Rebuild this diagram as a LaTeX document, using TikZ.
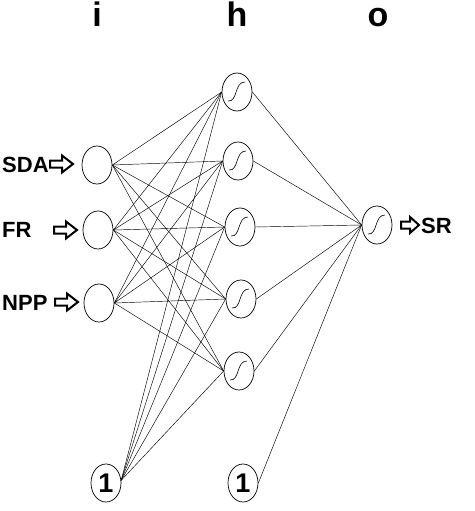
\documentclass[tikz,border=0pt]{standalone}
\usepackage{fontspec}
\setmainfont{Liberation Sans}
\usetikzlibrary{shapes.geometric}
\begin{document}
\begin{tikzpicture}[x=1pt,y=-1pt,
  neuron/.style={ellipse, draw, line width=0.7pt, minimum width=30pt, minimum height=38pt, inner sep=0pt},
  signeuron/.style={neuron, path picture={\draw[line width=0.6pt, shift={(path picture bounding box.center)}]
      (-9,9) .. controls (1,10) and (-3,-10) .. (8,-10);}},
  conn/.style={line width=0.45pt},
  head/.style={font=\fontsize{34}{34}\selectfont\bfseries, inner sep=0pt},
  lab/.style={font=\fontsize{22}{22}\selectfont\bfseries, inner sep=0pt},
  one/.style={font=\fontsize{27}{27}\selectfont\bfseries},
  hollowarrow/.pic={\draw[line width=2pt, line join=miter] (0,-3.5) -- (12,-3.5) -- (12,-8.5) -- (23,0) -- (12,8.5) -- (12,3.5) -- (0,3.5) -- cycle;},
  smallarrow/.pic={\draw[line width=2pt, line join=miter] (0,-3.5) -- (9,-3.5) -- (9,-8) -- (18,0) -- (9,8) -- (9,3.5) -- (0,3.5) -- cycle;}
]
\useasboundingbox (0,0) rectangle (474,511);
% headings
\node[head, anchor=base] (ti) at (97,27) {i};
\node[head, anchor=base] (th) at (237,27) {h};
\node[head, anchor=base] (to) at (378,27) {o};
% input neurons
\node[neuron] (i1) at (97,165) {};
\node[neuron] (i2) at (98,230) {};
\node[neuron] (i3) at (99,303) {};
% hidden
\node[signeuron] (h1) at (237,92) {};
\node[signeuron] (h2) at (238,161) {};
\node[signeuron] (h3) at (240,227) {};
\node[signeuron] (h4) at (241,299) {};
\node[signeuron] (h5) at (239,371) {};
% output
\node[signeuron] (o) at (377,225) {};
% bias
\node[neuron, one] (b1) at (106,483) {1};
\node[neuron, one] (b2) at (243,483) {1};
% labels
\node[lab, anchor=west] (lsda) at (2,165) {SDA};
\node[lab, anchor=west] (lfr) at (2,230) {FR};
\node[lab, anchor=west] (lnpp) at (2,303) {NPP};
\node[lab, anchor=west] (lsr) at (421,226) {SR};
\pic at (50,164) {hollowarrow};
\pic at (54,230) {hollowarrow};
\pic at (55,302) {hollowarrow};
\pic at (401,225) {smallarrow};
% connections
\foreach \a in {1,2,3}{
  \foreach \b in {1,...,5}{
    \draw[conn] (i\a.east) -- (h\b.west);
  }
}
\foreach \b in {1,...,5}{
  \draw[conn] (b1.10) -- (h\b.west);
  \draw[conn] (h\b.east) -- (o.west);
}
\draw[conn] (b2.east) -- (o.west);
\end{tikzpicture}
\end{document}
